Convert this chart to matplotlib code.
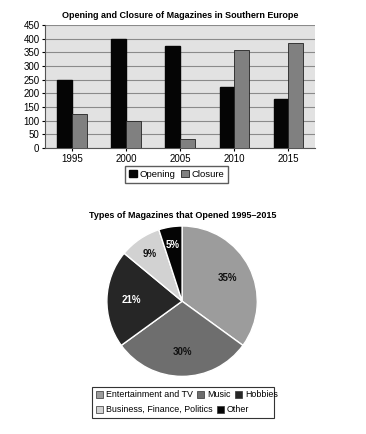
import numpy as np
import matplotlib.pyplot as plt
from matplotlib.patches import Patch, Rectangle

years = ['1995', '2000', '2005', '2010', '2015']
opening = [250, 400, 375, 222, 180]
closure = [125, 100, 33, 360, 383]

types = ['Entertainment and TV', 'Music', 'Hobbies', 'Business, Finance, Politics', 'Other']
shares = [35, 30, 21, 9, 5]
pie_colors = ['#9c9c9c', '#6e6e6e', '#262626', '#d2d2d2', '#050505']

plt.rcParams['font.family'] = ['Liberation Sans', 'DejaVu Sans']
plt.rcParams['font.size'] = 6.8

fig = plt.figure(figsize=(3.66, 4.34), dpi=100)

# bar chart
ax = fig.add_axes([0.123, 0.659, 0.738, 0.283])
ax.set_facecolor('#e2e2e2')
x = np.arange(len(years))
w = 0.27
ax.bar(x - w / 2, opening, width=w, color='#050505', edgecolor='#050505', label='Opening', zorder=3)
ax.bar(x + w / 2, closure, width=w, color='#808080', edgecolor='#222222', linewidth=0.6, label='Closure', zorder=3)
ax.set_ylim(0, 450)
ax.set_yticks(range(0, 451, 50))
ax.set_xlim(-0.5, 4.5)
ax.set_xticks(x)
ax.set_xticklabels(years)
ax.grid(axis='y', color='#8a8a8a', linewidth=0.8, zorder=0)
for s in ['top', 'right']:
    ax.spines[s].set_visible(False)
ax.spines['left'].set_color('#555555')
ax.spines['bottom'].set_color('#555555')
ax.tick_params(length=2, pad=2, labelsize=7)
ax.set_title('Opening and Closure of Magazines in Southern Europe', fontsize=6.5,
             fontweight='bold', pad=5)
ax.legend(loc='upper center', bbox_to_anchor=(0.487, -0.11), ncol=2, fontsize=6.8,
          frameon=True, fancybox=False, edgecolor='#333333', handlelength=0.8,
          handleheight=0.8, handletextpad=0.3, columnspacing=0.6,
          borderpad=0.4)

# pie chart
ax2 = fig.add_axes([0.290, 0.131, 0.415, 0.350])
wedges, texts = ax2.pie(shares, colors=pie_colors, startangle=90, counterclock=False,
                        wedgeprops=dict(edgecolor='white', linewidth=1))
ax2.set_xlim(-1.01, 1.01)
ax2.set_ylim(-1.01, 1.01)
label_colors = ['#111111', '#111111', 'white', '#111111', 'white']
for wdg, val, c in zip(wedges, shares, label_colors):
    ang = np.deg2rad((wdg.theta1 + wdg.theta2) / 2)
    r = 0.67 if val > 10 else 0.76
    ax2.text(r * np.cos(ang), r * np.sin(ang), f'{val}%', ha='center', va='center',
             color=c, fontsize=7, fontweight='bold')
ax2.set_aspect('equal')
fig.text(0.5, 0.504, 'Types of Magazines that Opened 1995\u20132015', ha='center',
         va='center', fontsize=6.5, fontweight='bold')

# pie legend: two rows inside one frame
handles = [Patch(facecolor=c, edgecolor='#333333', linewidth=0.5) for c in pie_colors]
fig.patches.append(Rectangle((0.251, 0.037), 0.498, 0.071, transform=fig.transFigure,
                             facecolor='white', edgecolor='#333333', linewidth=0.8))
opts = dict(fontsize=6.4, frameon=False, handlelength=0.8, handleheight=0.8,
            handletextpad=0.3, columnspacing=0.5, borderpad=0, borderaxespad=0)
fig.legend(handles[:3], types[:3], loc='center left', bbox_to_anchor=(0.263, 0.090),
           ncol=3, **opts)
fig.legend(handles[3:], types[3:], loc='center left', bbox_to_anchor=(0.263, 0.056),
           ncol=2, **opts)

fig.savefig('out.png', dpi=100, facecolor='white')
